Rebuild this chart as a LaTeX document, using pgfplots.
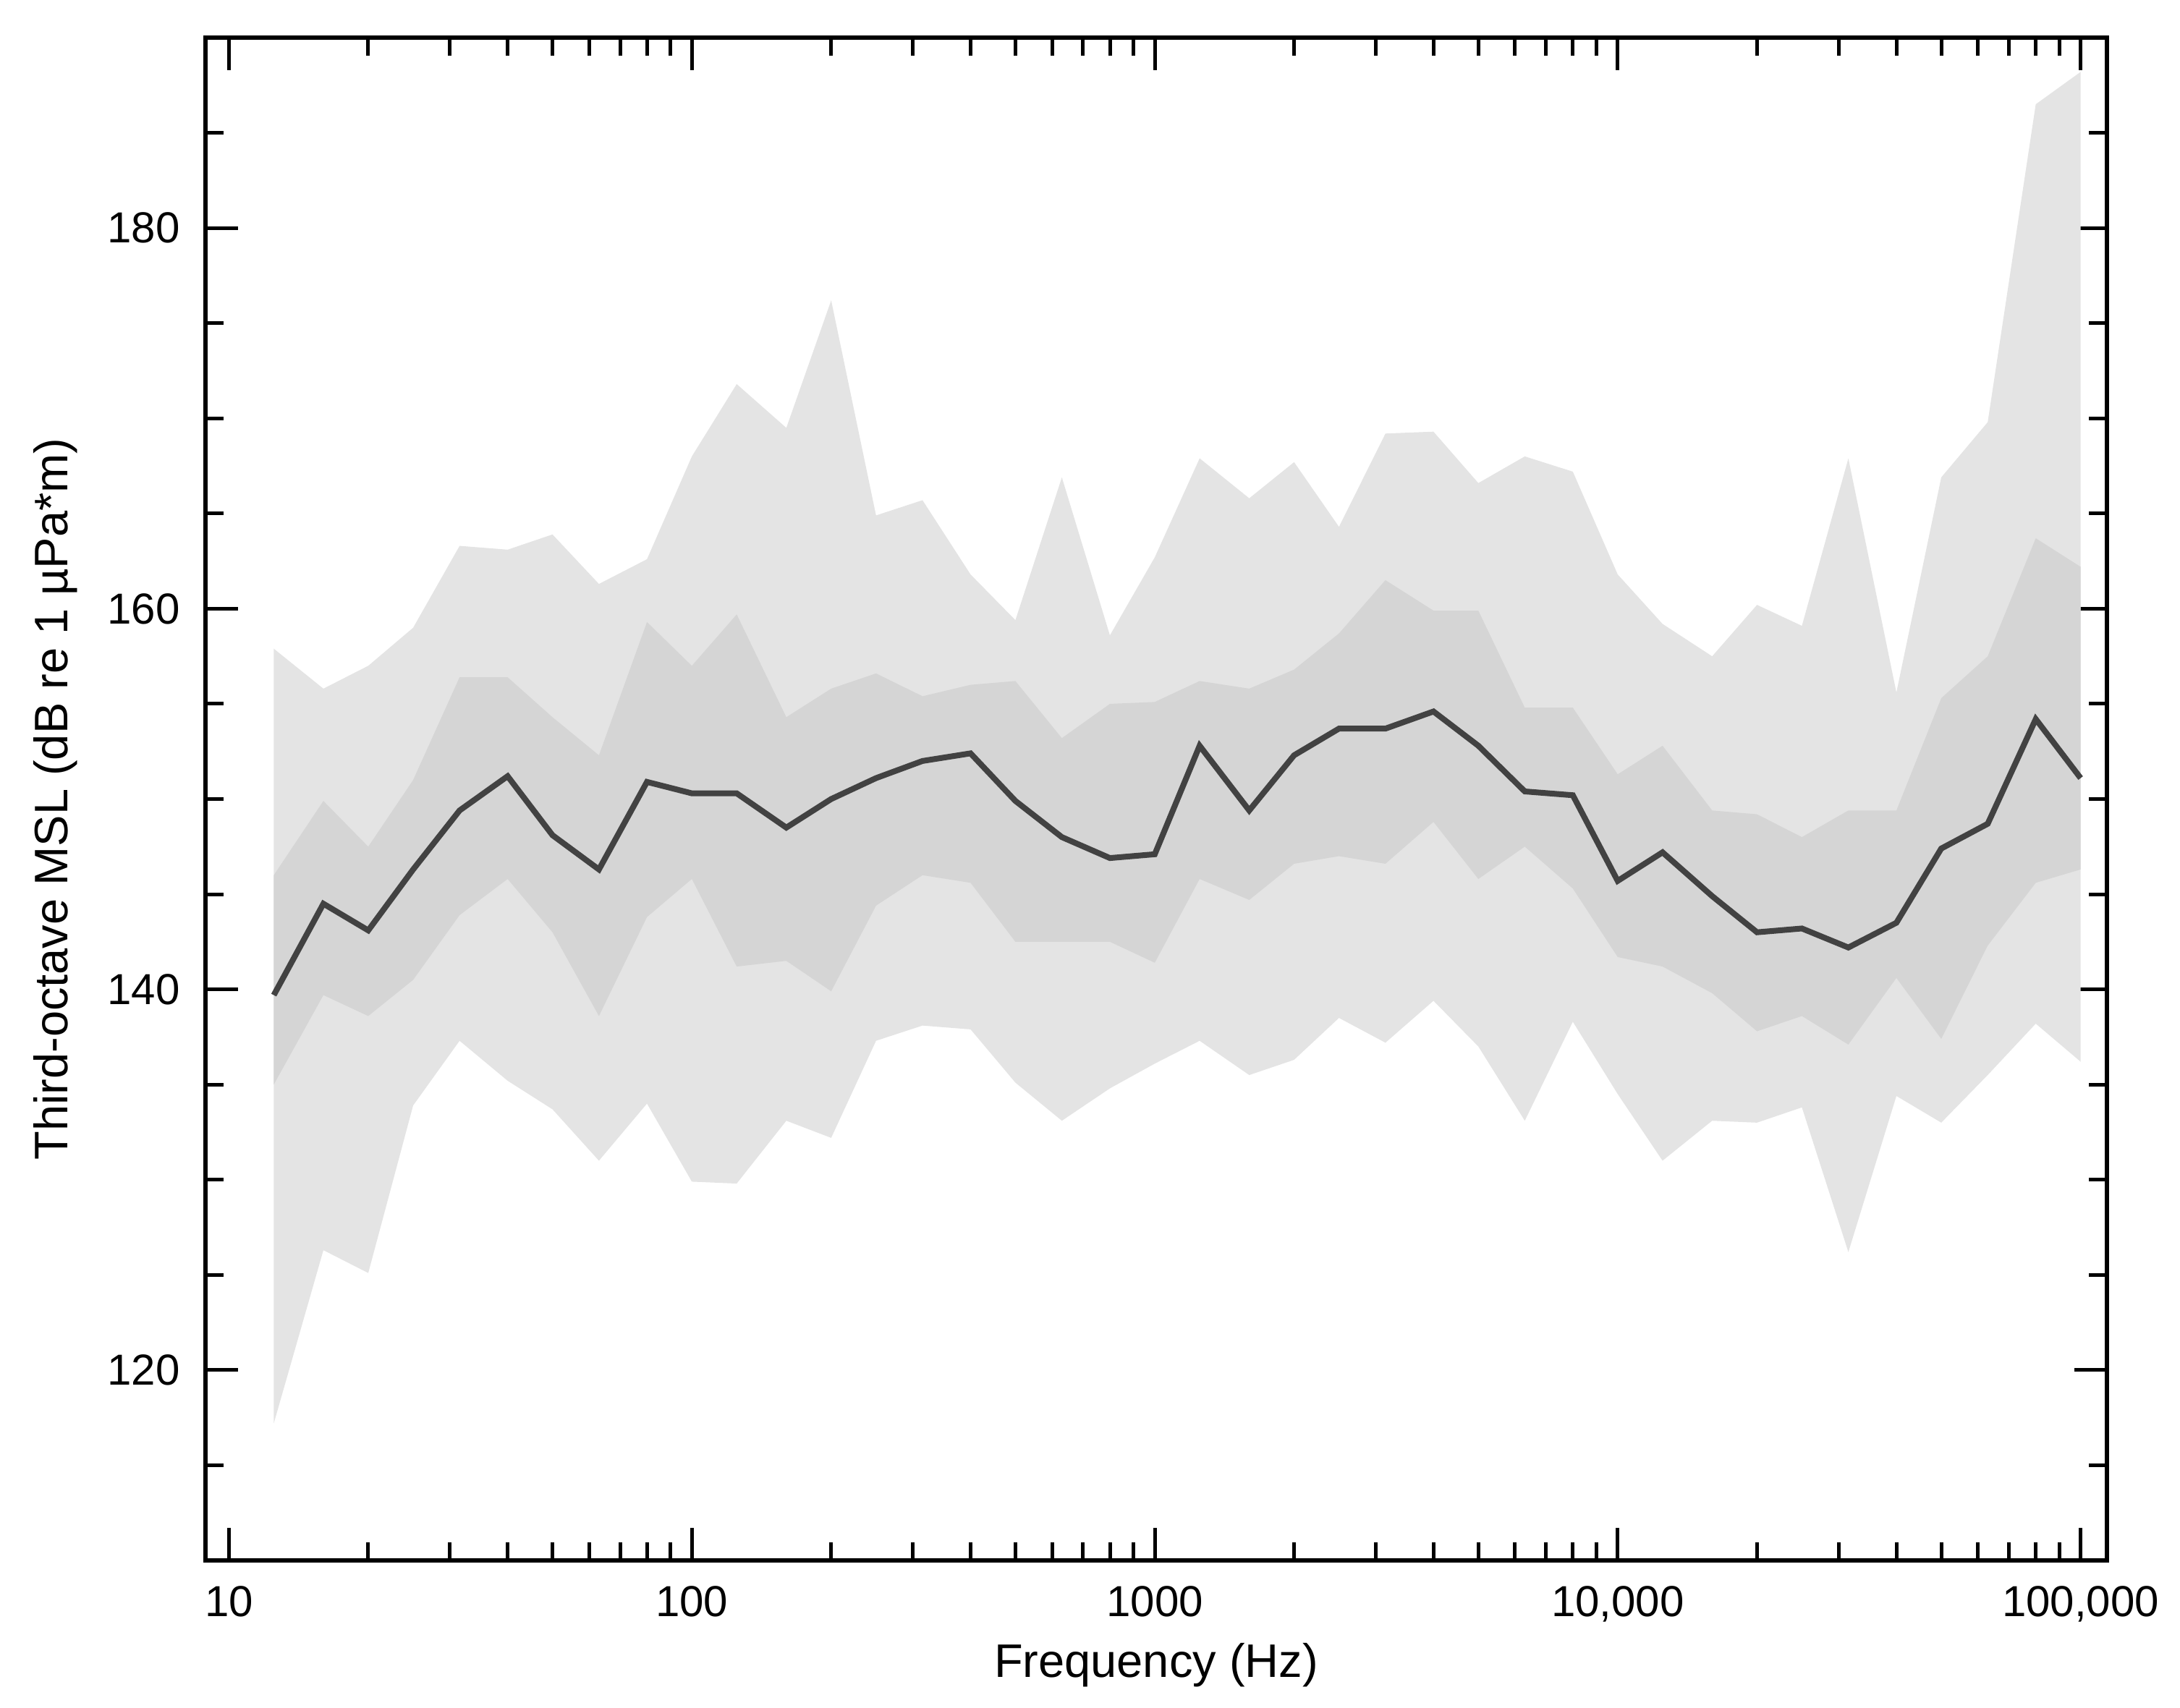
\documentclass[border=0pt]{standalone}
\usepackage{fontspec}
\setmainfont{Liberation Sans}
\usepackage{pgfplots}
\pgfplotsset{compat=1.18}
\usepackage{pgfplotstable}
\usepgfplotslibrary{fillbetween}

\definecolor{outerc}{RGB}{228,228,228}
\definecolor{innerc}{RGB}{213,213,213}
\definecolor{linec}{RGB}{66,66,66}

\pgfplotstableread{
f mean il ih ol oh
12.5 139.7 135.0 146.0 117.2 157.9
16 144.5 139.7 149.9 126.3 155.8
20 143.1 138.6 147.5 125.1 157.0
25 146.3 140.5 151.0 133.9 159.0
31.5 149.4 143.9 156.4 137.3 163.3
40 151.2 145.8 156.4 135.2 163.1
50 148.1 143.0 154.3 133.7 163.9
63 146.3 138.6 152.3 131.0 161.3
80 150.9 143.8 159.3 134.0 162.6
100 150.3 145.8 157.0 129.9 168.0
125 150.3 141.2 159.7 129.8 171.8
160 148.5 141.5 154.3 133.1 169.5
200 150.0 139.9 155.8 132.2 176.2
250 151.1 144.4 156.6 137.3 164.9
315 152.0 146.0 155.4 138.1 165.7
400 152.4 145.6 156.0 137.9 161.8
500 149.9 142.5 156.2 135.1 159.4
630 148.0 142.5 153.2 133.1 166.9
800 146.9 142.5 155.0 134.8 158.6
1000 147.1 141.4 155.1 136.1 162.7
1250 152.8 145.8 156.2 137.3 167.9
1600 149.4 144.7 155.8 135.5 165.8
2000 152.3 146.6 156.8 136.3 167.7
2500 153.7 147.0 158.7 138.5 164.3
3150 153.7 146.6 161.5 137.2 169.2
4000 154.6 148.8 159.9 139.4 169.3
5000 152.8 145.8 159.9 137.0 166.6
6300 150.4 147.5 154.8 133.1 168.0
8000 150.2 145.3 154.8 138.3 167.2
10000 145.7 141.7 151.3 134.5 161.8
12500 147.2 141.2 152.8 131.0 159.2
16000 144.9 139.8 149.4 133.1 157.5
20000 143.0 137.8 149.2 133.0 160.2
25000 143.2 138.6 148.0 133.8 159.1
31500 142.2 137.1 149.4 126.2 167.9
40000 143.5 140.6 149.4 134.4 155.6
50000 147.4 137.4 155.3 133.0 166.9
63000 148.7 142.3 157.5 135.5 169.8
80000 154.2 145.6 163.7 138.2 186.5
100000 151.1 146.3 162.2 136.2 188.2
}\data

\begin{document}
\begin{tikzpicture}
\begin{axis}[
  at={(0pt,0pt)}, anchor=south west,
  scale only axis, width=262.8pt, height=210.5pt,
  xmode=log, xmin=8.9, xmax=114000, ymin=110, ymax=190,
  xtick={10,100,1000,10000,100000},
  xticklabels={10,100,1000,{10,000},{100,000}},
  minor xtick={20,30,40,50,60,70,80,90,200,300,400,500,600,700,800,900,2000,3000,4000,5000,6000,7000,8000,9000,20000,30000,40000,50000,60000,70000,80000,90000},
  ytick={120,140,160,180},
  yticklabels={120,140,160,180},
  minor ytick={115,125,130,135,145,150,155,165,170,175,185},
  tick align=inside, tick pos=both,
  major tick length=4.5pt, minor tick length=2.5pt,
  tick style={black, line width=0.5pt},
  axis line style={line width=0.6pt},
  tick label style={font=\fontsize{6}{7}\selectfont},
  label style={font=\fontsize{6.5}{8}\selectfont},
  xlabel={Frequency (Hz)},
  ylabel={Third-octave MSL (dB re 1 µPa*m)},
  xlabel style={at={(axis description cs:0.5,-0.0689)}, anchor=center},
  ylabel style={at={(axis description cs:-0.0788,0.5)}, anchor=center},
]
\addplot[draw=none, name path=oh, forget plot] table[x=f,y=oh]{\data};
\addplot[draw=none, name path=ol, forget plot] table[x=f,y=ol]{\data};
\addplot[draw=none, name path=ih, forget plot] table[x=f,y=ih]{\data};
\addplot[draw=none, name path=il, forget plot] table[x=f,y=il]{\data};
\addplot[fill=outerc, draw=none] fill between[of=oh and ol];
\addplot[fill=innerc, draw=none] fill between[of=ih and il];
\addplot[color=linec, line width=0.8pt, mark=none] table[x=f,y=mean]{\data};
\end{axis}
\pgfresetboundingbox
\path[use as bounding box] (-28.4pt,-20.3pt) rectangle (272.9pt,215.7pt);
\end{tikzpicture}
\end{document}
